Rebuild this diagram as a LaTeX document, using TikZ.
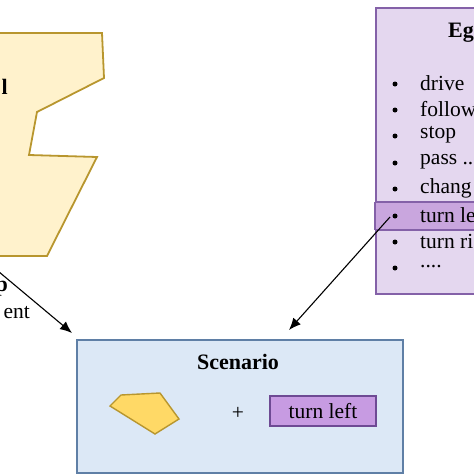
\documentclass[tikz,border=0pt]{standalone}
\usepackage{fontspec}
\setmainfont{Liberation Serif}
\usetikzlibrary{arrows.meta}
\definecolor{yfill}{HTML}{FFF2CC}
\definecolor{ystroke}{HTML}{B8962E}
\definecolor{yfill2}{HTML}{FFD966}
\definecolor{pfill}{HTML}{E4D7EF}
\definecolor{pstroke}{HTML}{8461A8}
\definecolor{phl}{HTML}{C9A6DE}
\definecolor{tlfill}{HTML}{C79BE2}
\definecolor{tlstroke}{HTML}{6E4A94}
\definecolor{bfill}{HTML}{DCE8F6}
\definecolor{bstroke}{HTML}{5F7FA6}
\tikzset{
  txt/.style={font=\fontsize{21.5}{25}\selectfont, inner sep=0pt},
  btxt/.style={font=\fontsize{22}{26}\selectfont\bfseries, inner sep=0pt},
  arr/.style={-{Latex[length=12pt,width=10pt]}, line width=1.1pt, black},
  bul/.style={circle, fill=black, inner sep=0pt, minimum size=5pt},
  item/.style={txt, anchor=west}
}
\begin{document}
\begin{tikzpicture}[x=1pt,y=-1pt]
\useasboundingbox (0,0) rectangle (474,474);
\clip (0,0) rectangle (474,474);
% left map polygon
\draw[line width=1.8pt, draw=ystroke, fill=yfill] (-20,33) -- (102,33) -- (104,78) -- (37,112) -- (29,155) -- (97,157) -- (47,256) -- (-20,256) -- cycle;
\node[btxt, anchor=east] (ltitle) at (8,87) {l};
\node[btxt, anchor=east] (lmap) at (8,289) {p};
\node[txt, anchor=east] (lenv) at (30,313) {ent};
% right list box
\node[draw=pstroke, fill=pfill, line width=1.6pt, minimum width=120pt, minimum height=286pt, anchor=north west, inner sep=0pt] (ego) at (375,7) {};
\fill[phl] (375,202) rectangle (480,230);
\draw[pstroke, line width=1.6pt] (375,202) -- (480,202);
\draw[pstroke, line width=1.6pt] (375,230) -- (480,230);
\draw[pstroke, line width=1.6pt] (375,202) -- (375,230);
\node[btxt, anchor=west] (egt) at (448,33) {Eg};
\node[bul] (ba) at (395,84) {};  \node[item] (ta) at (420,83) {drive};
\node[bul] (bb) at (395,110) {}; \node[item] (tb) at (420,109) {follow};
\node[bul] (bc) at (395,136) {}; \node[item] (tc) at (420,135) {stop};
\node[bul] (bd) at (395,163) {}; \node[item] (td) at (420,162) {pass ..};
\node[bul] (be) at (395,189) {}; \node[item] (te) at (420,188) {chang};
\node[bul] (bf) at (395,216) {}; \node[item] (tf) at (420,215) {turn le};
\node[bul] (bg) at (395,242) {}; \node[item] (tg) at (420,241) {turn ri};
\node[bul] (bh) at (395,268) {}; \node[item] (th) at (420,267) {....};
\coordinate (a1start) at (-20,256);
\coordinate (a2start) at (390,217);
% scenario box
\node[draw=bstroke, fill=bfill, line width=1.6pt, minimum width=326pt, minimum height=133pt, anchor=north west, inner sep=0pt] (scen) at (76,339) {};
\node[btxt] (scent) at (238,362) {Scenario};
\draw[line width=1.4pt, draw=ystroke, fill=yfill2] (110,406) -- (121,395) -- (160,393) -- (179,419) -- (155,434) -- cycle;
\node[txt] (plus) at (238,413) {+};
\node[draw=tlstroke, fill=tlfill, line width=1.4pt, minimum width=106pt, minimum height=30pt, inner sep=0pt, txt] (tl) at (323,411) {turn left};
% arrows
\coordinate (tip1) at (72,333);
\coordinate (tip2) at (289,330);
\draw[arr] (a1start) -- (tip1);
\draw[arr] (a2start) -- (tip2);
\end{tikzpicture}
\end{document}
